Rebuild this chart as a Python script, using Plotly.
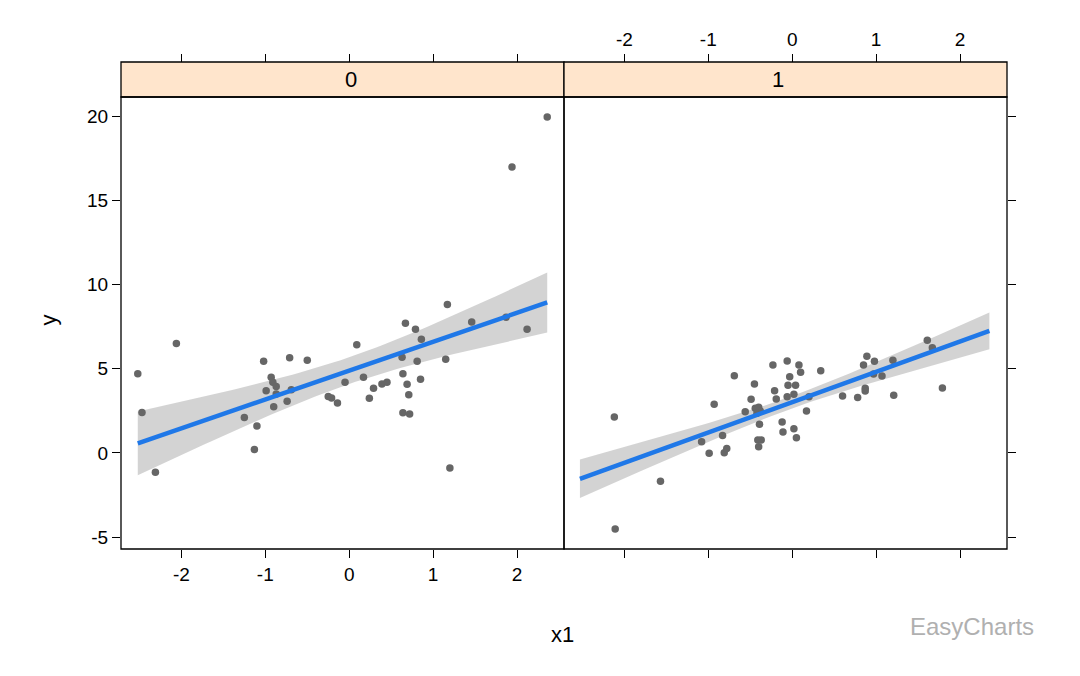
import numpy as np
import plotly.graph_objects as go

# group 0
x0 = [-2.52,-2.47,-2.31,-2.06,-1.25,-1.10,-1.13,-1.02,-0.93,-0.91,-0.87,-0.99,-0.87,-0.69,-0.90,-0.74,-0.71,-0.50,
      -0.25,-0.21,-0.14,-0.05,0.09,0.17,0.24,0.29,0.39,0.45,0.63,0.64,0.64,0.72,0.69,0.71,0.67,0.79,0.86,0.81,0.85,
      1.15,1.17,1.20,1.46,1.87,2.12,1.94,2.36]
y0 = [4.7,2.4,-1.15,6.5,2.1,1.6,0.2,5.45,4.5,4.2,3.95,3.7,3.5,3.75,2.75,3.07,5.65,5.5,
      3.35,3.26,2.97,4.2,6.43,4.49,3.25,3.84,4.1,4.2,5.68,4.7,2.39,2.31,4.08,3.46,7.7,7.34,6.75,5.44,4.37,
      5.56,8.82,-0.89,7.77,8.05,7.34,16.97,19.94]
# group 1
x1 = [-2.12,-2.11,-1.57,-1.08,-0.99,-0.83,-0.81,-0.78,-0.93,-0.69,-0.56,-0.49,-0.45,-0.44,-0.40,-0.38,-0.42,-0.39,
      -0.41,-0.37,-0.40,-0.23,-0.21,-0.19,-0.12,-0.11,-0.06,-0.03,-0.05,0.04,-0.06,0.02,0.08,0.10,0.02,0.05,0.20,
      0.17,0.34,0.60,0.78,0.87,0.87,0.85,0.89,0.98,0.97,1.07,1.20,1.21,1.61,1.67,1.79]
y1 = [2.14,-4.51,-1.68,0.67,-0.02,1.03,0.02,0.26,2.89,4.59,2.45,3.19,4.1,2.65,2.71,2.49,2.36,1.7,
      0.77,0.77,0.37,5.22,3.7,3.2,1.84,1.25,5.46,4.53,4.02,4.02,3.34,3.48,5.22,4.79,1.44,0.91,3.34,
      2.49,4.88,3.38,3.3,3.84,3.68,5.22,5.74,5.44,4.69,4.57,5.5,3.42,6.69,6.25,3.86]
panels = ["0", "1"]
xticks = [-2, -1, 0, 1, 2]
yticks = [-5, 0, 5, 10, 15, 20]
XR = [-2.72, 2.56]
YR = [-5.7, 21.13]

def lab(v):
    return [str(t).replace("\u2212", "-") for t in v]

def fit(x, y, lo, hi):
    x = np.array(x); y = np.array(y); n = len(x)
    b, a = np.polyfit(x, y, 1)
    res = y - (a + b * x)
    s = np.sqrt((res ** 2).sum() / (n - 2))
    xs = np.linspace(lo, hi, 80)
    se = s * np.sqrt(1 / n + (xs - x.mean()) ** 2 / ((x - x.mean()) ** 2).sum())
    yh = a + b * xs
    return xs, yh, yh - 1.8 * se, yh + 1.8 * se

W, H, OFF = 1080, 676, 8
def px(v): return (v - OFF) / W
def py(v): return 1 - (v - OFF) / H

fig = go.Figure()
dl, dm, dr = px(121), px(564), px(1007)
yb, yt, st = py(549), py(97), py(62)
for i, (xx, yy) in enumerate([(x0, y0), (x1, y1)]):
    xa = "x" if i == 0 else "x2"
    ya = "y" if i == 0 else "y2"
    xs, yh, lo, hi = fit(xx, yy, min(xx) if i == 0 else -2.53, max(xx) if i == 0 else 2.35)
    fig.add_trace(go.Scatter(x=np.concatenate([xs, xs[::-1]]), y=np.concatenate([hi, lo[::-1]]),
                             fill="toself", fillcolor="rgba(200,200,200,0.8)", line=dict(width=0),
                             mode="lines", xaxis=xa, yaxis=ya, hoverinfo="skip"))
    fig.add_trace(go.Scatter(x=xx, y=yy, mode="markers", marker=dict(color="#666666", size=7.5),
                             xaxis=xa, yaxis=ya))
    fig.add_trace(go.Scatter(x=xs, y=yh, mode="lines", line=dict(color="#1f78e8", width=4.5),
                             xaxis=xa, yaxis=ya))

TF = dict(size=19, color="black")
ax = dict(range=XR, tickvals=xticks, ticktext=lab(xticks), ticks="outside", ticklen=8, tickwidth=1.3,
          tickcolor="black", showgrid=False, zeroline=False, showline=False, tickfont=TF, automargin=False)
ay = dict(range=YR, tickvals=yticks, ticktext=lab(yticks), domain=[yb, yt], ticks="outside", ticklen=8,
          tickwidth=1.3, tickcolor="black", showgrid=False, zeroline=False, tickfont=TF, automargin=False)
fig.update_layout(
    width=W, height=H, showlegend=False, plot_bgcolor="white", paper_bgcolor="white",
    margin=dict(l=0, r=0, t=0, b=0), font=dict(family="Liberation Sans", color="black"),
    xaxis=dict(ax, domain=[dl, dm], side="bottom", anchor="y"),
    xaxis2=dict(ax, domain=[dm, dr], side="bottom", anchor="y2", showticklabels=False),
    xaxis3=dict(ax, domain=[dl, dm], side="top", overlaying="x", anchor="free", position=st,
                showticklabels=False),
    xaxis4=dict(ax, domain=[dm, dr], side="top", overlaying="x2", anchor="free", position=st),
    yaxis=dict(ay, anchor="x"),
    yaxis2=dict(ay, side="right", showticklabels=False, anchor="x2"),
)
fig.add_trace(go.Scatter(x=[0], y=[0], xaxis="x3", yaxis="y", mode="markers", marker=dict(opacity=0)))
fig.add_trace(go.Scatter(x=[0], y=[0], xaxis="x4", yaxis="y2", mode="markers", marker=dict(opacity=0)))
shapes = []
for a, b, lb in [(dl, dm, panels[0]), (dm, dr, panels[1])]:
    shapes.append(dict(type="rect", xref="paper", yref="paper", x0=a, x1=b, y0=yt, y1=st,
                       fillcolor="#ffe5cc", line=dict(color="black", width=1.3)))
    shapes.append(dict(type="rect", xref="paper", yref="paper", x0=a, x1=b, y0=yb, y1=yt,
                       line=dict(color="black", width=1.3)))
    fig.add_annotation(xref="paper", yref="paper", x=(a + b) / 2, y=(yt + st) / 2, text=lb,
                       showarrow=False, font=dict(size=22), yanchor="middle")
fig.update_layout(shapes=shapes)
fig.add_annotation(xref="paper", yref="paper", x=px(33), y=py(320), text="y", showarrow=False,
                   font=dict(size=22), textangle=-90)
fig.add_annotation(xref="paper", yref="paper", x=px(562), y=py(649), text="x1", showarrow=False,
                   font=dict(size=22))
fig.add_annotation(xref="paper", yref="paper", x=px(908), y=py(642), text="EasyCharts", xanchor="left",
                   showarrow=False, font=dict(size=24, color="#b0b0b0"))
fig.write_html("out.html")
